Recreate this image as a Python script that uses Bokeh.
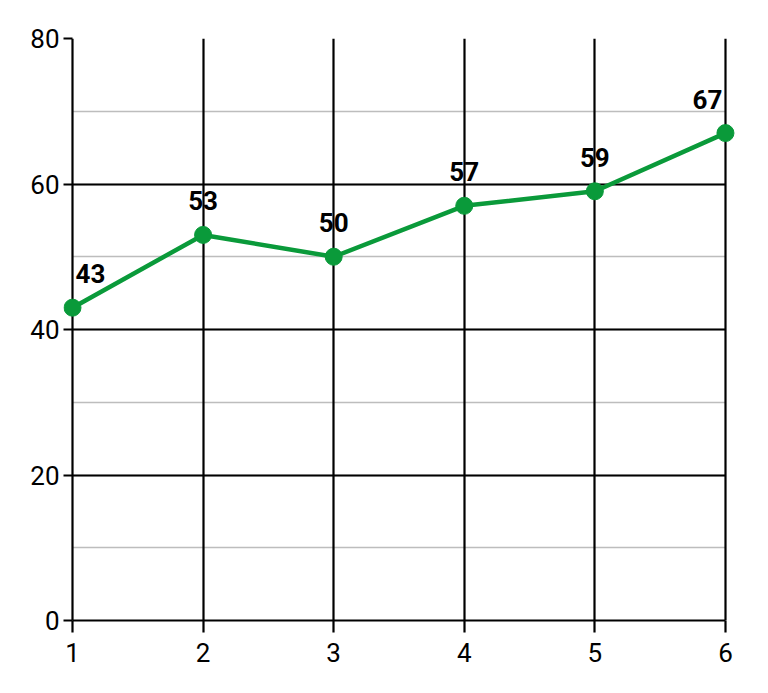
from bokeh.plotting import figure
from bokeh.models import (Range1d, LinearAxis, FixedTicker, SingleIntervalTicker,
                          ColumnDataSource, Grid)
from bokeh.embed import file_html
from bokeh.resources import INLINE
from bokeh.core.properties import value

# ---- data ----
x_values = [1, 2, 3, 4, 5, 6]
y_values = [43, 53, 50, 57, 59, 67]
x_ticks = [1, 2, 3, 4, 5, 6]
y_tick_interval = 20

GREEN = "#0a9a3a"
FONT = "Roboto"

X_MIN, X_MAX = 1, 6
PX_PER_X = 130.6
LEFT_PAD = 9 / PX_PER_X    # y-axis ticks live in this strip
RIGHT_PAD = 0.1            # room so the last marker is not clipped

p = figure(width=752, height=685,
           x_range=Range1d(X_MIN - LEFT_PAD, X_MAX + RIGHT_PAD), y_range=Range1d(0, 80),
           x_axis_type=None, y_axis_type=None,
           output_backend="svg", toolbar_location=None,
           min_border_left=63, min_border_right=14,
           min_border_top=38, min_border_bottom=65)
p.outline_line_color = None
p.background_fill_color = "white"
p.border_fill_color = "white"

xt = FixedTicker(ticks=x_ticks)
yt = SingleIntervalTicker(interval=y_tick_interval, num_minor_ticks=2)

xaxis = LinearAxis(ticker=xt, bounds=(X_MIN, X_MAX),
                   axis_line_color="black", axis_line_width=2.2,
                   major_tick_line_color="black", major_tick_line_width=2.2,
                   major_tick_out=12, major_tick_in=0,
                   minor_tick_line_color=None,
                   major_label_text_font=FONT, major_label_text_font_size="26px",
                   major_label_text_color="black", major_label_standoff=10)
p.add_layout(xaxis, "below")

yaxis = LinearAxis(ticker=yt,
                   axis_line_color=None,
                   major_tick_line_color="black", major_tick_line_width=2.2,
                   major_tick_out=0, major_tick_in=9,
                   minor_tick_line_color=None,
                   major_label_text_font=FONT, major_label_text_font_size="26px",
                   major_label_text_color="black", major_label_standoff=0)
p.add_layout(yaxis, "left")

# vertical lines (including the y axis line at x=1)
xgrid = Grid(dimension=0, ticker=xt,
             grid_line_color="black", grid_line_width=2.2)
ygrid = Grid(dimension=1, ticker=yt, cross_bounds=(X_MIN, X_MAX),
             grid_line_color="black", grid_line_width=2.2,
             minor_grid_line_color="#bdbdbd", minor_grid_line_width=1.5)
p.renderers.extend([ygrid, xgrid])

p.line(x_values, y_values, line_color=GREEN, line_width=4.5)
p.scatter(x_values, y_values, size=17, fill_color=GREEN, line_color=GREEN)

n = len(x_values)
aligns = ["left"] + ["center"] * (n - 2) + ["right"]
xoffs = [3] + [0] * (n - 2) + [-3]
src = ColumnDataSource(dict(x=x_values, y=y_values,
                            label=[str(v) for v in y_values],
                            align=aligns, xoff=xoffs))
p.text(x="x", y="y", text="label", source=src,
       text_align="align", x_offset="xoff", y_offset=-34,
       text_baseline="alphabetic",
       text_font=value(FONT), text_font_style="bold",
       text_font_size="26px", text_color="black")

open("out.html", "w").write(file_html(p, INLINE))
